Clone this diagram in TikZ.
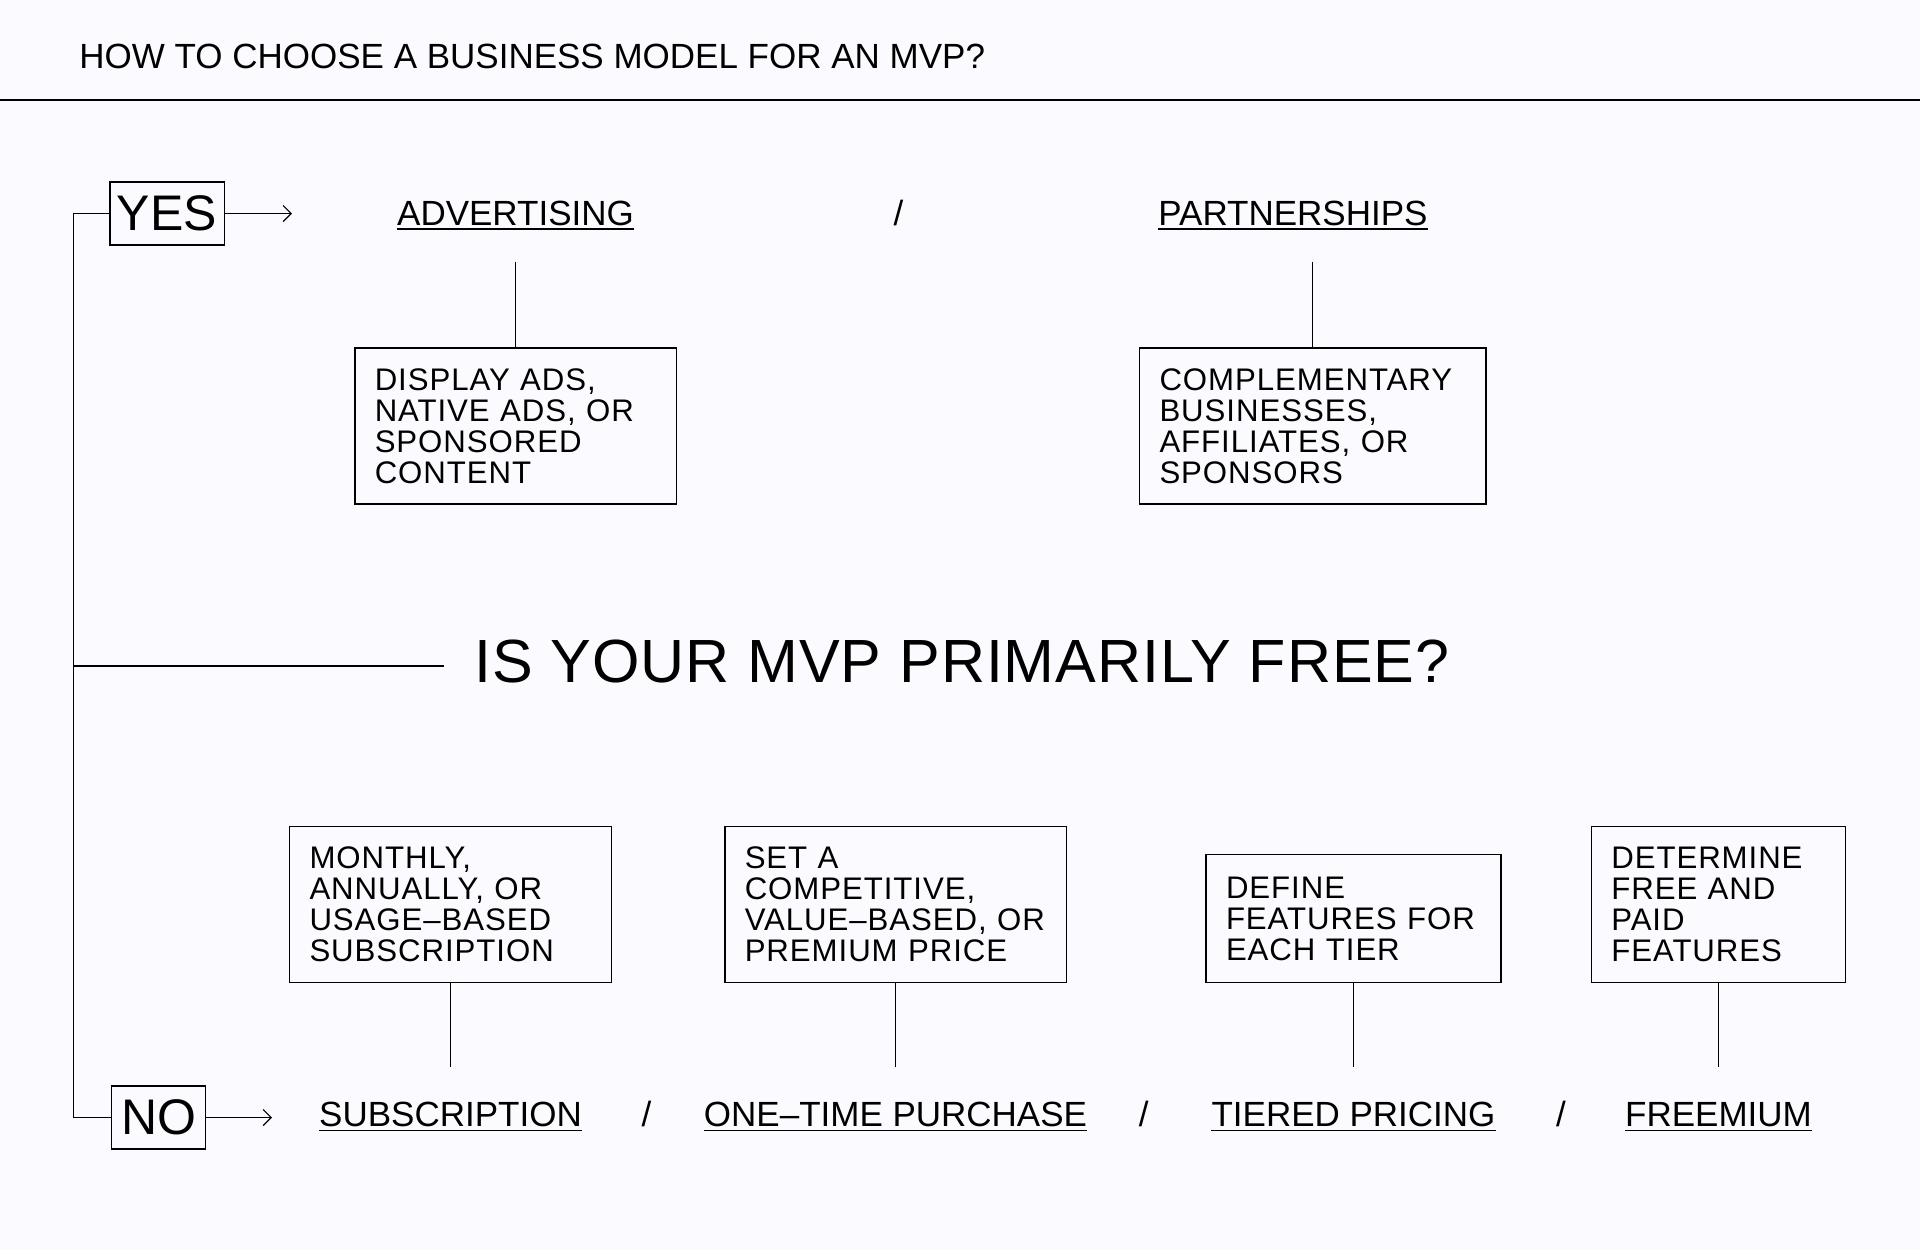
\documentclass[tikz,border=0pt]{standalone}
\usepackage{fontspec}
\setmainfont{Liberation Sans}
\newfontfamily\boxfont[LetterSpace=3]{Liberation Sans}
\newfontfamily\askfont[LetterSpace=1.5]{Liberation Sans}
\usetikzlibrary{positioning,arrows,arrows.meta}
\definecolor{paper}{HTML}{FBFAFE}

\begin{document}
\begin{tikzpicture}[x=0.5pt,y=-0.5pt,>={Straight Barb[length=4pt,width=8pt]},
thin line/.style={line width=0.6pt},
uline/.style={line width=0.65pt},
optbox/.style={draw,line width=0.75pt,align=left,inner xsep=10pt,
    minimum height=78pt,font=\boxfont\fontsize{15.6}{15.5}\selectfont},
answer/.style={draw,line width=0.75pt,minimum height=31.5pt,inner xsep=2pt,
    font=\fontsize{25}{25}\selectfont},
model/.style={inner xsep=0pt,inner ysep=17pt,text height=12.5pt,text depth=0pt,
    font=\fontsize{17.5}{17.5}\selectfont},
slash/.style={anchor=base,inner sep=0pt,font=\fontsize{17.5}{17.5}\selectfont}]
\fill[paper] (0,0) rectangle (1920,1250);
\useasboundingbox (0,0) rectangle (1920,1250);

% heading
\node[anchor=base west,inner sep=0pt,font=\fontsize{17.5}{17.5}\selectfont]
    (title) at (79,68) {HOW TO CHOOSE A BUSINESS MODEL FOR AN MVP?};
\coordinate (ruleL) at (0,100);
\coordinate (ruleR) at (1920,100);
\draw[line width=0.85pt] (ruleL) -- (ruleR);

% question and answers
\node[anchor=base west,inner xsep=15pt,font=\askfont\fontsize{30.5}{30.5}\selectfont]
    (Q) at (444,682) {IS YOUR MVP PRIMARILY FREE?};
\coordinate (spine) at (73.5,666);
\node[answer,minimum width=57.25pt] (yes) at (167,213.5) {YES};
\node[answer,minimum width=47pt] (no) at (158.5,1117.5) {NO};
\coordinate (yesend) at (292,213.5);
\coordinate (noend) at (272,1117.5);

% free models
\node[model,anchor=base,inner ysep=18.5pt] (adv) at (515.5,225) {ADVERTISING};
\node[slash] (s0) at (898.5,225) {/};
\node[model,anchor=base west,inner ysep=18.5pt] (part) at (1158,225) {PARTNERSHIPS};
\node[optbox,text width=140.75pt,below=42.5pt of adv] (advbox)
    {DISPLAY~ADS,\\NATIVE~ADS,~OR\\SPONSORED\\CONTENT};
\node[optbox,text width=153.25pt,anchor=north] (partbox) at (1312.75,347)
    {COMPLEMENTARY\\BUSINESSES,\\AFFILIATES,~OR\\SPONSORS};

% paid models
\node[model,anchor=base] (sub) at (450.5,1126.7) {SUBSCRIPTION};
\node[slash] (s1) at (646.5,1126.7) {/};
\node[model,anchor=base] (one) at (895.5,1126.7) {ONE–TIME PURCHASE};
\node[slash] (s2) at (1143.6,1126.7) {/};
\node[model,anchor=base] (tier) at (1353.5,1126.7) {TIERED PRICING};
\node[slash] (s3) at (1561,1126.7) {/};
\node[model,anchor=base] (free) at (1718.5,1126.7) {FREEMIUM};
\node[optbox,text width=141pt,above=42pt of sub] (subbox)
    {MONTHLY,\\ANNUALLY,~OR\\USAGE–BASED\\SUBSCRIPTION};
\node[optbox,text width=150.75pt,above=42pt of one] (onebox)
    {SET~A\\COMPETITIVE,\\VALUE–BASED,~OR\\PREMIUM~PRICE};
\node[optbox,text width=127.5pt,minimum height=64pt,above=42pt of tier] (tierbox)
    {DEFINE\\FEATURES~FOR\\EACH~TIER};
\node[optbox,text width=107.2pt,above=42pt of free] (freebox)
    {DETERMINE\\FREE~AND\\PAID\\FEATURES};

\draw[thin line] (yes.west) -| (spine) |- (no.west);
\draw[thin line] (spine) -- (spine -| Q.west);
\draw[thin line,->] (yes) -- (yesend);
\draw[thin line,->] (no) -- (noend);
\path[thin line] (advbox) edge (adv)
    (partbox.north) edge (partbox.north |- part.south)
    (subbox) edge (sub)
    (onebox) edge (one)
    (tierbox) edge (tier)
    (freebox) edge (free);
\foreach \n in {adv,part,sub,one,tier,free}
    \draw[uline] ([yshift=-2pt]\n.base west) -- ([yshift=-2pt]\n.base east);
\end{tikzpicture}
\end{document}
